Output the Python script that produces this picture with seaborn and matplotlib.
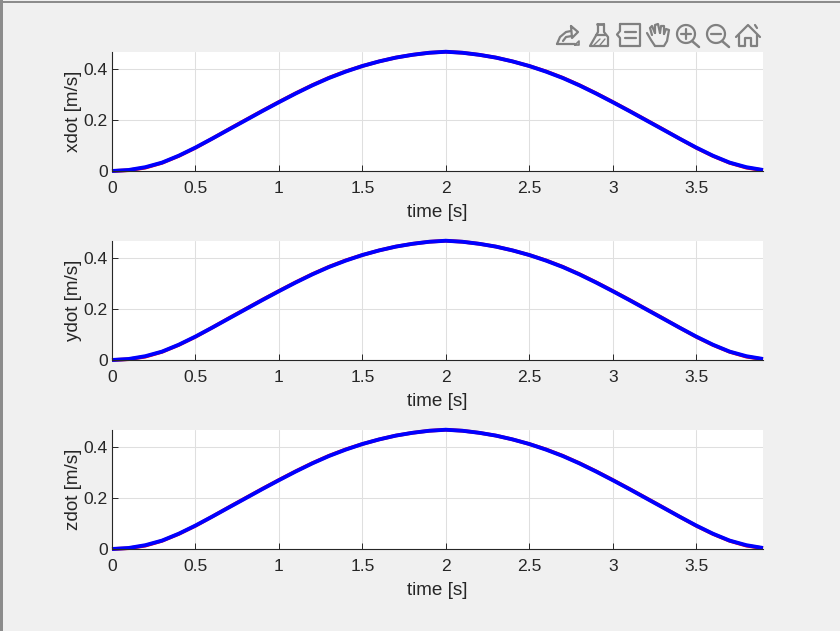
import numpy as np
import pandas as pd
import matplotlib
matplotlib.use("Agg")
import matplotlib.pyplot as plt
from matplotlib.lines import Line2D
from matplotlib.patches import Rectangle
import seaborn as sns

time = [0.0, 0.1, 0.2, 0.3, 0.4, 0.5, 0.6, 0.7, 0.8, 0.9, 1.0, 1.1, 1.2, 1.3,
        1.4, 1.5, 1.6, 1.7, 1.8, 1.9, 2.0, 2.1, 2.2, 2.3, 2.4, 2.5, 2.6, 2.7,
        2.8, 2.9, 3.0, 3.1, 3.2, 3.3, 3.4, 3.5, 3.6, 3.7, 3.8, 3.9]
xdot = [0.000, 0.004, 0.015, 0.033, 0.060, 0.092, 0.127, 0.163, 0.199, 0.235,
        0.270, 0.304, 0.336, 0.365, 0.390, 0.412, 0.430, 0.445, 0.456, 0.464,
        0.468, 0.464, 0.456, 0.445, 0.430, 0.412, 0.390, 0.365, 0.336, 0.304,
        0.270, 0.235, 0.199, 0.163, 0.127, 0.092, 0.060, 0.033, 0.015, 0.004]
ydot = list(xdot)
zdot = list(xdot)
xdot_ref = [0.000, 0.003, 0.013, 0.032, 0.059, 0.091, 0.127, 0.164, 0.200, 0.236,
            0.271, 0.305, 0.337, 0.366, 0.391, 0.412, 0.430, 0.445, 0.456, 0.464,
            0.468, 0.464, 0.456, 0.445, 0.430, 0.412, 0.391, 0.366, 0.337, 0.305,
            0.271, 0.236, 0.200, 0.164, 0.127, 0.091, 0.059, 0.032, 0.013, 0.003]
series = [("xdot [m/s]", xdot), ("ydot [m/s]", ydot), ("zdot [m/s]", zdot)]
xticks = [0, 0.5, 1, 1.5, 2, 2.5, 3, 3.5]
xticklabels = ["0", "0.5", "1", "1.5", "2", "2.5", "3", "3.5"]
yticks = [0, 0.2, 0.4]
yticklabels = ["0", "0.2", "0.4"]

W, H = 840, 631
BG = "#f0f0f0"
INK = "#262626"
sns.set_theme(style="whitegrid")
plt.rcParams["font.family"] = ["Liberation Sans", "DejaVu Sans"]
fig = plt.figure(figsize=(W / 100, H / 100), dpi=100, facecolor=BG)

tops = [52, 241, 430]
for top, (label, vals) in zip(tops, series):
    ax = fig.add_axes([112 / W, 1 - (top + 119) / H, 651 / W, 119 / H], facecolor="white")
    df = pd.DataFrame({"t": time, "v": vals, "r": xdot_ref})
    sns.lineplot(data=df, x="t", y="r", ax=ax, color="#ff0000", lw=2.6,
                 errorbar=None, clip_on=False, solid_capstyle="butt")
    sns.lineplot(data=df, x="t", y="v", ax=ax, color="#0000ff", lw=2.8,
                 errorbar=None, clip_on=False, solid_capstyle="butt")
    ax.set_xlim(0, 3.9)
    ax.set_ylim(0, 0.467)
    ax.set_xticks(xticks, xticklabels)
    ax.set_yticks(yticks, yticklabels)
    ax.grid(True, color="#dfdfdf", lw=0.75)
    ax.set_axisbelow(True)
    for s in ("top", "right"):
        ax.spines[s].set_visible(False)
    for s in ("left", "bottom"):
        ax.spines[s].set_color(INK)
        ax.spines[s].set_linewidth(0.8)
    ax.tick_params(direction="in", length=4.5, width=0.7, color=INK, labelcolor=INK,
                   labelsize=12.6, pad=3, bottom=True, left=True)
    ax.tick_params(axis="x", pad=7.5)
    ax.set_xlabel("time [s]", fontsize=13.6, color=INK, labelpad=5.5)
    ax.set_ylabel(label, fontsize=13.6, color=INK, labelpad=1.5)

# window edge
fig.add_artist(Rectangle((0, 0), 3 / W, 1, transform=fig.transFigure, color="#8c8c8c", lw=0))
fig.add_artist(Rectangle((0, 1 - 3 / H), 1, 1.5 / H, transform=fig.transFigure, color="#8c8c8c", lw=0))

# toolbar icons, sketched in pixel coordinates
IC = "#808080"
def fx(x): return x / W
def fy(y): return 1 - y / H
def stroke(pts, lw=1.6):
    xs, ys = zip(*pts)
    fig.add_artist(Line2D([fx(x) for x in xs], [fy(y) for y in ys],
                          transform=fig.transFigure, color=IC, lw=lw, solid_capstyle="round"))
def ring(cx, cy, r, lw=1.6):
    t = np.linspace(0, 2 * np.pi, 40)
    stroke(list(zip(cx + r * np.cos(t), cy + r * np.sin(t))), lw)

# edit arrow
stroke([(557, 44), (575, 44)])
stroke([(557, 44), (560, 37), (566, 32), (571, 31)])
stroke([(563, 41), (566, 37), (572, 36)])
stroke([(571, 26), (578, 32), (572, 38), (571, 26)])
stroke([(575, 45), (579, 45), (579, 41), (575, 45)], 1.2)
# brush
stroke([(597, 24), (603, 24)], 2)
stroke([(598, 24), (598, 32), (590, 46), (608, 46), (608, 37), (604, 32), (604, 24)])
stroke([(596, 35), (606, 35)])
stroke([(594, 45), (600, 39)], 1)
stroke([(600, 45), (605, 39)], 1)
# legend
stroke([(620, 24), (640, 24), (640, 46), (620, 46), (620, 38), (617, 34.5), (620, 31), (620, 24)])
stroke([(625, 32), (636, 32)])
stroke([(625, 38), (636, 38)])
# hand
stroke([(655, 46), (651, 40), (647, 33)])
stroke([(652, 35), (650, 28), (652, 26), (655, 33)])
stroke([(655, 33), (655, 25), (658, 24), (660, 33)])
stroke([(660, 33), (661, 26), (664, 26), (664, 34)])
stroke([(664, 34), (666, 29), (669, 30), (667, 41), (664, 46), (655, 46)])
# zoom in
ring(686, 34, 9)
stroke([(692, 41), (699, 47)], 1.8)
stroke([(681, 34), (691, 34)])
stroke([(686, 29), (686, 39)])
# zoom out
ring(716, 34, 9)
stroke([(722, 41), (729, 47)], 1.8)
stroke([(711, 34), (721, 34)])
# home
stroke([(736, 37), (748, 25), (760, 37)])
stroke([(739, 35), (739, 46), (745, 46), (745, 38), (751, 38), (751, 46), (757, 46), (757, 35)])
stroke([(755, 25), (757, 28)])

fig.savefig("out.png", dpi=100, facecolor=BG)
